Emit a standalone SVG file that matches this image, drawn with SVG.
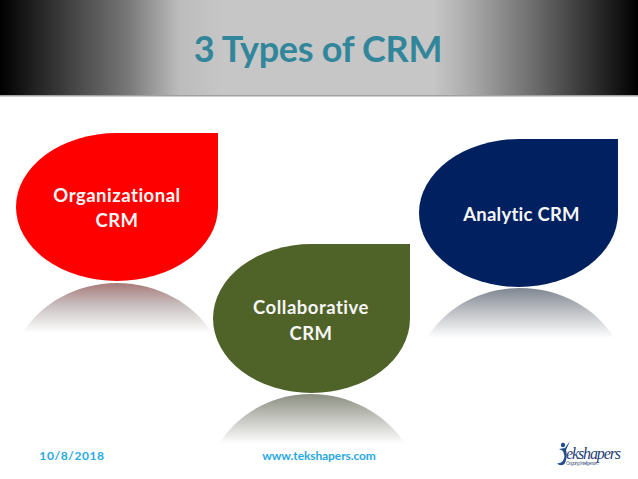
<svg xmlns="http://www.w3.org/2000/svg" width="638" height="479" viewBox="0 0 638 479">
<style>
text{font-family:Lato,"Liberation Sans",sans-serif;font-weight:700;text-anchor:middle;font-variant-ligatures:none}
.w{fill:#f6f6f6;font-size:18.5px;letter-spacing:.5px}
.f{fill:#2aa9de;font-size:12px}
</style>
<defs>
<linearGradient id="hdr" x1="0" x2="1" y1="0" y2="0">
<stop offset="0" stop-color="#000"/><stop offset=".1" stop-color="#3c3c3c"/><stop offset=".2" stop-color="#777"/><stop offset=".28" stop-color="#bcbcbc"/><stop offset=".35" stop-color="#c6c6c6"/><stop offset=".68" stop-color="#c6c6c6"/><stop offset=".74" stop-color="#a8a8a8"/><stop offset=".84" stop-color="#6a6a6a"/><stop offset=".93" stop-color="#2e2e2e"/><stop offset="1" stop-color="#000"/>
</linearGradient>
<linearGradient id="rr" x1="0" x2="0" y1="0" y2="1"><stop offset="0" stop-color="#a87a7a"/><stop offset=".45" stop-color="#c9c0c0"/><stop offset="1" stop-color="#fff"/></linearGradient>
<linearGradient id="rg" x1="0" x2="0" y1="0" y2="1"><stop offset="0" stop-color="#8b8f80"/><stop offset=".45" stop-color="#c0c1bb"/><stop offset="1" stop-color="#fff"/></linearGradient>
<linearGradient id="rb" x1="0" x2="0" y1="0" y2="1"><stop offset="0" stop-color="#7f8692"/><stop offset=".45" stop-color="#bcbec3"/><stop offset="1" stop-color="#fff"/></linearGradient>
</defs>
<rect width="638" height="479" fill="#fff"/>
<g id="header">
<rect width="638" height="95" fill="url(#hdr)"/>
<rect y="95" width="638" height="1.5" fill="#a0a0a0"/>
<text x="318" y="62" font-size="36" fill="#31869b" letter-spacing="-.3">3 Types of CRM</text>
</g>
<g id="node-organizational">
<path d="M23 333C40 304 76 283 117 283S194 304 212 333Z" fill="url(#rr)"/>
<path d="M218 133H117A101 74 0 1 0 218 207Z" fill="#fe0000"/>
<text class="w" x="117" y="202">Organizational</text>
<text class="w" x="117" y="227">CRM</text>
</g>
<g id="node-collaborative">
<path d="M219 444C237 414 272 394 311 394S386 414 405 444Z" fill="url(#rg)"/>
<path d="M410 244H311.500A98.500 74.500 0 1 0 410 318.500Z" fill="#4f6228"/>
<text class="w" x="311" y="314">Collaborative</text>
<text class="w" x="311" y="340">CRM</text>
</g>
<g id="node-analytic">
<path d="M427 338C445 308 480 288 520 288S596 308 614 338Z" fill="url(#rb)"/>
<path d="M618 139H519A100 74 0 0 0 519 287A99 74 0 0 0 618 213Z" fill="#002060"/>
<text class="w" x="521.500" y="221" style="letter-spacing:.25px">Analytic CRM</text>
</g>
<g id="footer">
<text class="f" x="72" y="460" style="letter-spacing:.6px">10/8/2018</text>
<text class="f" x="319" y="460" style="letter-spacing:-.1px">www.tekshapers.com</text>
</g>
<g id="logo">
<circle cx="563" cy="445" r="2.200" fill="#1f4e8c"/>
<path d="M570 441L565 448L559 449L563 451L564.500 456C564 461 561 464 557 463C559 466 563 466 565 463C567 459 567 453 566 450Z" fill="#1f4e8c"/>
<text x="566" y="459" font-size="16" textLength="55" fill="#1f3f75" style="text-anchor:start;font-family:'Liberation Serif',serif;font-style:italic;font-weight:400">ekshapers</text>
<text x="566" y="465" font-size="4.500" textLength="33" fill="#4a5f85" style="text-anchor:start;font-family:'Liberation Sans',sans-serif;font-style:italic;font-weight:400">Ongoing Intelligence...</text>
</g>
</svg>
